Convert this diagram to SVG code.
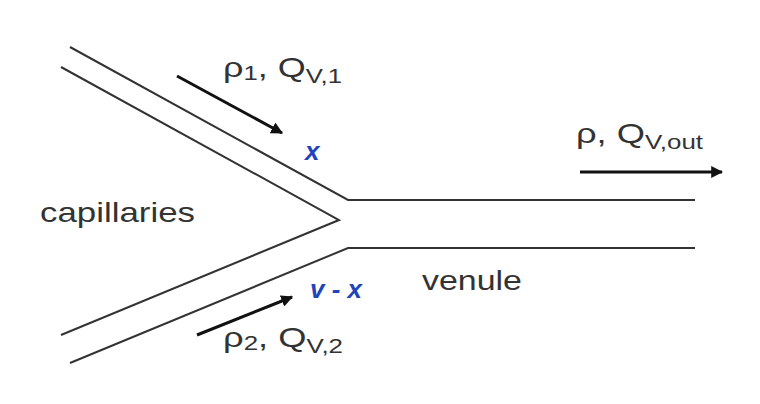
<svg xmlns="http://www.w3.org/2000/svg" width="760" height="404" viewBox="0 0 760 404">
<style>
.l{stroke:#333;stroke-width:2;fill:none}
.a{stroke:#111;stroke-width:3;fill:none;marker-end:url(#ah)}
text{font-family:"Liberation Sans",Arial,sans-serif;fill:#333}
.t{font-size:28px}
.s{font-size:20px}
.b{fill:#2244bb;font-size:26px;font-style:italic;font-weight:bold}
</style>
<defs><marker id="ah" viewBox="0 0 10 10" refX="9" refY="5" markerWidth="4" markerHeight="4" orient="auto"><path d="M0,0L10,5L0,10z" fill="#111"/></marker></defs>
<rect width="760" height="404" fill="#fff"/>
<g id="vessels">
<path class="l" d="M70,47L348,200H695"/>
<path class="l" d="M61,67L339,220L61,335"/>
<path class="l" d="M70,363L348,248H695"/>
</g>
<g id="connectors">
<path class="a" d="M177,76L282,133"/>
<path class="a" d="M197,335L292,297"/>
<path class="a" d="M580,172L722,172"/>
</g>
<g id="labels">
<text class="t" x="223" y="77" textLength="119" lengthAdjust="spacingAndGlyphs">ρ<tspan class="s" dy="3">1</tspan><tspan dy="-3">, Q</tspan><tspan class="s" dy="6">V,1</tspan></text>
<text class="t" x="223" y="347" textLength="120" lengthAdjust="spacingAndGlyphs">ρ<tspan class="s" dy="3">2</tspan><tspan dy="-3">, Q</tspan><tspan class="s" dy="6">V,2</tspan></text>
<text class="t" x="576" y="143" textLength="127" lengthAdjust="spacingAndGlyphs">ρ, Q<tspan class="s" dy="6">V,out</tspan></text>
<text class="t" x="40" y="222" textLength="155" lengthAdjust="spacingAndGlyphs">capillaries</text>
<text class="t" x="422" y="290" textLength="100" lengthAdjust="spacingAndGlyphs">venule</text>
<text class="b" x="305" y="160">x</text>
<text class="b" x="310" y="298">v - x</text>
</g>
</svg>
